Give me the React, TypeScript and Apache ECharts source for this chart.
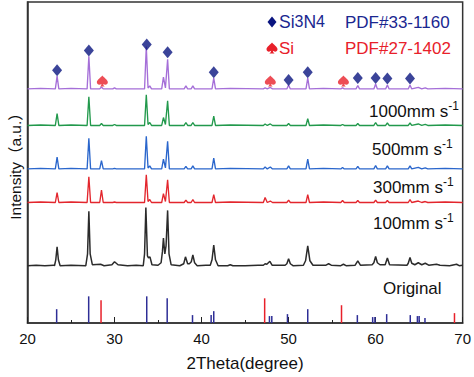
import React, { useEffect, useRef } from "react";
import * as echarts from "echarts";

const FONT = '"Liberation Sans", Arial, "Noto Sans CJK SC", sans-serif';

// ---- Data ----
const xTickValues = [20, 30, 40, 50, 60, 70];

const curveNames = ["Original", "100mm s-1", "300mm s-1", "500mm s-1", "1000mm s-1"];
const curveColors = ["#2b2b2b", "#e3262d", "#2a66cc", "#22994c", "#a56fd8"];
// vertical offsets of the stacked patterns (a.u.)
const curveOffsets = [58, 122, 156, 200, 237];

// 2θ points sampled for the processed samples
const twoTheta = [
  20, 21.5, 23.2, 23.4, 23.6, 25, 26.85, 27.05, 27.25, 28.3, 28.5, 28.7, 29.8, 30.0, 30.2,
  33.45, 33.65, 33.85, 34.05, 34.25, 35.42, 35.62, 35.85, 36.1, 36.3, 38.0, 38.2, 38.4,
  38.8, 39.0, 39.2, 41.2, 41.4, 41.6, 43.3, 47.1, 47.3, 47.55, 47.9, 48.15, 49.8, 50.0, 50.2,
  52.0, 52.2, 52.4, 54, 56.0, 56.2, 56.4, 57.75, 57.95, 58.15, 59.8, 60.0, 60.2, 61.15, 61.35,
  61.55, 63.75, 63.95, 64.15, 64.9, 65.3, 65.7, 66.0, 68, 70,
];

const intensity100 = [
  0, 0.5, 0, 10, 0, 0.5, 0, 26, 0, 0, 12.5, 0, 0, 0.5, 0, 0, 28, 1, 3, 0, 0, 9, 1, 23, 0,
  0, 2.5, 0, 0, 3, 0, 0, 8, 0, 0.5, 0, 5, 0, 1.5, 0, 0, 2.5, 0, 0, 8, 0, 0.5, 0, 2, 0,
  0, 2, 0, 0, 2.5, 0, 0, 2, 0, 0, 3, 0, 1.5, 0, 1, 0, 0.5, 0,
];
const intensity300 = [
  0, 0.5, 0, 12, 0, 0.5, 0, 31, 0, 0, 8.5, 0, 0, 0.5, 0, 0, 33, 1, 3, 0, 0, 10, 1, 28, 0,
  0, 2.5, 0, 0, 3, 0, 0, 11, 0, 0.5, 0, 2, 0, 2, 0, 0, 3, 0, 0, 10, 0, 0.5, 0, 1.5, 0,
  0, 2.5, 0, 0, 3.5, 0, 0, 3, 0, 0, 3, 0, 1.5, 0, 1, 0, 0.5, 0,
];
const intensity500 = [
  0, 0.5, 0, 12, 0, 0.5, 0, 29, 0, 0, 2, 0, 0, 1, 0, 0, 31, 1, 3, 0, 0, 8, 1, 25, 0,
  0, 3, 0, 0, 3, 0, 0, 9.5, 0, 0.5, 0, 1.5, 0, 1.5, 0, 0, 2, 0, 0, 7, 0, 0.5, 0, 1, 0,
  0, 2, 0, 0, 3, 0, 0, 2.5, 0, 0, 2.5, 0, 1.5, 0, 1, 0, 0.5, 0,
];
const intensity1000 = [
  0, 0.5, 0, 13, 0, 0.5, 0, 33, 0, 0, 2, 0, 0, 1, 0, 0, 43, 1, 3, 0, 0, 12, 1, 30, 0,
  0, 3, 0, 0, 3, 0, 0, 11, 0, 0.5, 0, 1, 0, 1.5, 0, 0, 4, 0, 0, 11, 0, 0.5, 0, 1, 0,
  0, 3.5, 0, 0, 5, 0, 0, 4, 0, 0, 4, 0, 1.5, 0, 1, 0, 0.5, 0,
];

// original powder pattern [2θ, intensity]
const originalPattern = [
  [20, 0], [21, 0.5], [22, 0], [23.0, 0.5], [23.1, 0], [23.25, 6], [23.4, 19], [23.55, 6],
  [23.75, 0], [25, 0.5], [26.7, 0], [26.9, 12], [27.05, 55], [27.2, 12], [27.45, 1],
  [28.4, 1.5], [28.8, 0], [29.7, 1], [30.0, 4], [30.4, 1], [31.5, 0], [32.5, 0.5], [33.3, 0],
  [33.45, 12], [33.6, 59], [33.78, 10], [33.9, 8], [34.07, 9], [34.3, 1], [35.0, 0.5],
  [35.35, 3], [35.5, 14], [35.62, 28], [35.78, 12], [35.92, 20], [36.1, 56], [36.26, 12],
  [36.5, 1], [37.5, 0], [37.95, 2], [38.15, 9], [38.4, 2], [38.6, 2], [38.82, 4], [39.0, 11],
  [39.2, 3], [39.5, 0], [40.5, 0.5], [41.0, 0.5], [41.2, 6], [41.4, 21], [41.6, 6], [41.9, 0],
  [43.0, 0], [43.3, 1], [43.6, 0], [45, 0], [46.5, 0.5], [47.1, 0.5], [47.3, 2], [47.5, 1.5],
  [47.85, 4.5], [48.1, 0.5], [49.6, 0.5], [49.8, 2], [50.0, 7], [50.2, 2], [50.5, 0],
  [51.7, 0.5], [51.95, 5], [52.2, 20], [52.45, 5], [52.8, 0.5], [54.3, 0.5], [54.6, 2],
  [54.9, 0.5], [56.0, 0], [56.3, 1.5], [56.6, 0], [57.65, 0.5], [57.95, 5], [58.25, 0.5],
  [59.6, 1], [59.8, 3], [60.0, 9.3], [60.2, 3], [60.5, 1], [61.1, 1], [61.35, 7.7], [61.6, 1],
  [63.6, 0.5], [63.75, 2.5], [63.95, 8.3], [64.15, 2.5], [64.5, 1], [64.9, 3], [65.3, 1],
  [65.7, 2.5], [66.1, 0.5], [67.0, 1.5], [67.4, 0.5], [68.5, 0], [69.3, 1.5], [69.6, 0], [70, 0.5],
];

// standard cards (reference sticks): [2θ, relative height]
const si3n4Sticks = [
  [23.35, 14], [27.03, 27], [33.7, 27], [36.05, 25], [38.96, 8], [41.1, 8], [41.4, 12],
  [47.8, 7], [48.07, 7], [49.87, 9], [52.2, 14], [57.9, 8], [59.66, 6], [59.92, 6],
  [61.27, 9], [63.98, 8], [64.8, 7], [65.0, 7], [65.67, 5],
];
const siSticks = [[28.45, 23], [47.25, 25], [56.08, 18], [69.06, 10]];

// phase markers above the top pattern: [2θ, height]
const si3n4Marks = [
  [23.4, 256], [27.05, 276], [33.7, 282], [36.1, 274], [41.4, 254], [50.0, 246],
  [52.2, 254], [57.95, 248], [60.0, 248], [61.35, 247.5], [63.95, 247.5],
];
const siMarks = [[28.6, 245], [47.9, 245], [56.3, 245]];

const NAVY = "#0a1580";
const LEGEND_NAVY = "#1a2790";
const RED = "#e8202a";
const STICK_NAVY = "#2e2e96";

const SPADE_D =
  "M50 0 C62 18 100 38 100 62 C100 82 76 90 58 76 C60 88 66 96 74 100 L26 100 C34 96 40 88 42 76 C24 90 0 82 0 62 C0 38 38 18 50 0 Z";
const SPADE_SYMBOL = "path://" + SPADE_D;

let spadeRegistered = false;

export default function App() {
  const ref = useRef<HTMLDivElement>(null);

  useEffect(() => {
    if (!ref.current) return;
    if (!spadeRegistered) {
      echarts.graphic.registerShape("spade", echarts.graphic.extendPath(SPADE_D, {}) as any);
      spadeRegistered = true;
    }
    const chart = echarts.init(ref.current, undefined, { renderer: "svg" });

    const sampleSeries = [intensity100, intensity300, intensity500, intensity1000];
    const lineSeries: any[] = [];
    lineSeries.push({
      type: "line",
      name: curveNames[0],
      data: originalPattern.map(([x, y]) => [x, curveOffsets[0] + y]),
      showSymbol: false,
      lineStyle: { color: curveColors[0], width: 1.5 },
      z: 3,
    });
    sampleSeries.forEach((vals, k) => {
      lineSeries.push({
        type: "line",
        name: curveNames[k + 1],
        data: twoTheta.map((x, i) => [x, curveOffsets[k + 1] + vals[i]]),
        showSymbol: false,
        lineStyle: { color: curveColors[k + 1], width: 1.35 },
        z: 3,
      });
    });

    const stickData = [
      ...si3n4Sticks.map(([x, h]) => ({ value: [x, h], itemStyle: { color: STICK_NAVY } })),
      ...siSticks.map(([x, h]) => ({ value: [x, h], itemStyle: { color: RED } })),
    ];

    const labelY = [288, 222, 186, 148, 110];
    const labelX = [383, 373, 373, 372, 369];

    const graphics: any[] = [];
    curveNames.forEach((name, i) => {
      if (i === 0) {
        graphics.push({
          type: "text",
          x: labelX[i],
          y: labelY[i],
          style: {
            text: name,
            fill: "#111",
            fontSize: 17,
            fontFamily: FONT,
            verticalAlign: "middle",
            align: "left",
          },
        });
      } else {
        const main = name.replace("-1", "");
        graphics.push({
          type: "text",
          x: labelX[i],
          y: labelY[i] - 10,
          style: {
            text: `{a|${main}}{b|-1}`,
            fill: "#111",
            fontFamily: FONT,
            verticalAlign: "top",
            align: "left",
            rich: {
              a: { fontSize: 17, lineHeight: 20, verticalAlign: "bottom", fontFamily: FONT, fill: "#111" },
              b: { fontSize: 12, lineHeight: 10, verticalAlign: "top", fontFamily: FONT, fill: "#111" },
            },
          },
        });
      }
    });

    // legend
    graphics.push({
      type: "polygon",
      shape: { points: [[272, 16.5], [276.5, 22], [272, 27.5], [267.5, 22]] },
      style: { fill: NAVY },
    });
    graphics.push({
      type: "text",
      x: 279,
      y: 22 - 8.5,
      style: {
        text: "{a|Si}{s|3}{a|N}{s|4}",
        fill: LEGEND_NAVY,
        fontFamily: FONT,
        verticalAlign: "top",
        align: "left",
        rich: {
          a: { fontSize: 17.5, lineHeight: 17, verticalAlign: "top", fontFamily: FONT, fill: LEGEND_NAVY },
          s: { fontSize: 16, lineHeight: 27, verticalAlign: "top", fontFamily: FONT, fill: LEGEND_NAVY },
        },
      },
    });
    graphics.push({
      type: "text",
      x: 345,
      y: 22,
      style: { text: "PDF#33-1160", fill: LEGEND_NAVY, fontSize: 17, fontFamily: FONT, verticalAlign: "middle", align: "left" },
    });
    graphics.push({
      type: "spade",
      x: 266.5,
      y: 42.5,
      scaleX: 0.11,
      scaleY: 0.11,
      style: { fill: RED },
    });
    graphics.push({
      type: "text",
      x: 279,
      y: 48,
      style: { text: "Si", fill: RED, fontSize: 17, fontFamily: FONT, verticalAlign: "middle", align: "left" },
    });
    graphics.push({
      type: "text",
      x: 345,
      y: 48,
      style: { text: "PDF#27-1402", fill: RED, fontSize: 17, fontFamily: FONT, verticalAlign: "middle", align: "left" },
    });

    chart.setOption({
      animation: false,
      backgroundColor: "#ffffff",
      grid: {
        left: 22,
        right: 10,
        top: 2,
        bottom: 50,
        show: true,
        borderColor: "#333",
        borderWidth: 1.5,
        backgroundColor: "transparent",
      },
      xAxis: {
        type: "value",
        min: 20,
        max: 70,
        interval: 10,
        axisLine: { show: true, lineStyle: { color: "#333", width: 1.5 } },
        axisTick: { show: true, inside: true, length: 6, lineStyle: { color: "#222", width: 1 } },
        minorTick: { show: true, splitNumber: 2, length: 3, lineStyle: { color: "#222", width: 1 } },
        splitLine: { show: false },
        axisLabel: {
          fontSize: 15,
          color: "#111",
          fontFamily: FONT,
          margin: 8,
          formatter: (v: number) => (xTickValues.includes(v) ? String(v) : ""),
        },
        name: "2Theta(degree)",
        nameLocation: "middle",
        nameGap: 32,
        nameTextStyle: { fontSize: 17, color: "#111", fontFamily: FONT },
      },
      yAxis: {
        type: "value",
        min: 0,
        max: 325,
        axisLine: { show: true, lineStyle: { color: "#333", width: 1.5 } },
        axisTick: { show: false },
        axisLabel: { show: false },
        splitLine: { show: false },
        name: "Intensity（a.u.）",
        nameLocation: "middle",
        nameGap: 4,
        nameTextStyle: { fontSize: 15.5, color: "#111", fontFamily: FONT },
      },
      series: [
        {
          type: "bar",
          name: "cards",
          data: stickData,
          barWidth: 1.5,
          z: 2,
        },
        ...lineSeries,
        {
          type: "scatter",
          name: "Si3N4",
          data: si3n4Marks,
          symbol: "diamond",
          symbolSize: [10, 12],
          itemStyle: { color: NAVY },
          z: 4,
        },
        {
          type: "scatter",
          name: "Si",
          data: siMarks,
          symbol: SPADE_SYMBOL,
          symbolSize: [11, 11],
          itemStyle: { color: RED },
          z: 4,
        },
      ],
      graphic: graphics,
    });

    return () => chart.dispose();
  }, []);

  return <div ref={ref} style={{ width: 474, height: 377, position: "absolute", left: 0, top: 0 }} />;
}
